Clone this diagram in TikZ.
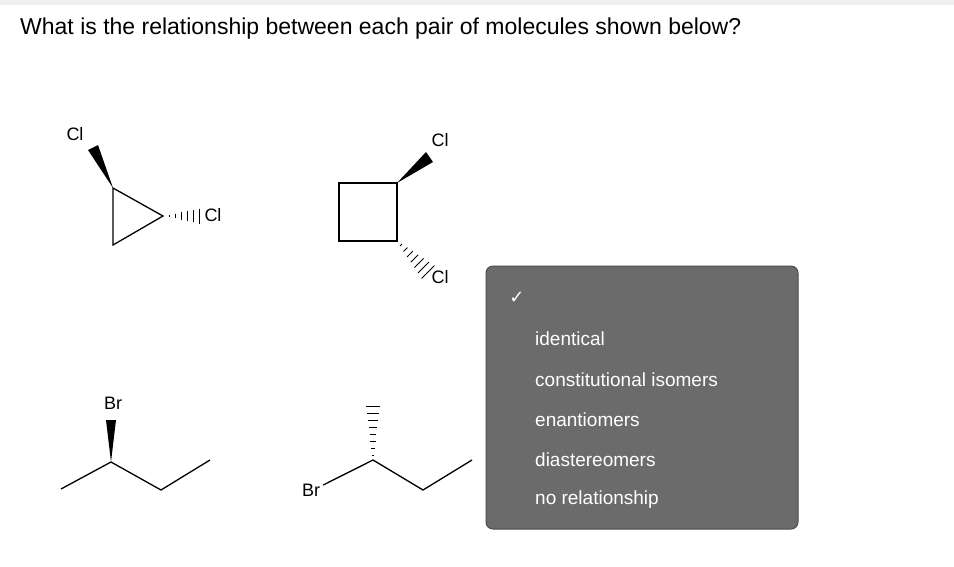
\documentclass[tikz,border=0pt]{standalone}
\usepackage{fontspec}
\setmainfont{Liberation Sans}
\usetikzlibrary{calc}
\begin{document}
\begin{tikzpicture}[x=1pt,y=-1pt,
  bond/.style={line width=1.3pt},
  atom/.style={font=\fontsize{18}{20}\selectfont, inner sep=0pt},
  menuitem/.style={font=\fontsize{19}{22}\selectfont, text=white, anchor=west, inner sep=0pt}]
\useasboundingbox (0,0) rectangle (954,566);
\fill[gray!12] (0,0) rectangle (954,5);
\node[anchor=west, font=\fontsize{23}{26}\selectfont, inner sep=0pt] (q) at (20,29) {What is the relationship between each pair of molecules shown below?};
% cyclopropane
\coordinate (p1) at (113,188); \coordinate (p2) at (163,216); \coordinate (p3) at (113,245);
\draw[bond] (p1) -- (p2) -- (p3) -- cycle;
\node[atom] (cl1) at (75,134) {Cl};
\fill (p1) -- (88,150) -- (98,145) -- cycle;
\node[atom] (cl2) at (213,215) {Cl};
\foreach \i in {0,...,5}{\draw[line width=1pt] ($(p2)+(6+\i*6,-1-\i*1.3)$) -- ($(p2)+(6+\i*6,1+\i*1.3)$);}
% cyclobutane
\draw[bond] (339,183) rectangle (397,241);
\fill (397,183) -- (426,152) -- (433,162) -- cycle;
\node[atom] (cl3) at (440,140) {Cl};
\foreach \i in {0,...,6}{\draw[line width=1pt] ($(397,241)+(4+\i*4.5,4+\i*4.5)+(-1-\i*0.9,1+\i*0.9)$) -- ($(397,241)+(4+\i*4.5,4+\i*4.5)+(1+\i*0.9,-1-\i*0.9)$);}
\node[atom] (cl4) at (440,277) {Cl};
% bottom left
\draw[bond] (61,489) -- (111,462) -- (161,490) -- (210,460);
\fill (111,462) -- (106,420) -- (116,420) -- cycle;
\node[atom] (br1) at (113,403) {Br};
% bottom right
\node[atom] (br2) at (311,490) {Br};
\draw[bond] ($(br2.east)+(3,-5)$) -- (373,460) -- (423,490) -- (472,460);
\foreach \i in {0,...,7}{\draw[line width=1pt] ($(373,455)+(-1-\i*0.8,-\i*7)$) -- ($(373,455)+(1+\i*0.8,-\i*7)$);}
% menu
\draw[rounded corners=7pt, fill=black!58, draw=black!70, line width=1pt] (486,266) rectangle (798,529);
\node[font=\fontsize{18}{20}\selectfont, text=white, inner sep=0pt] (chk) at (517,298) {\fontspec{DejaVu Sans}✓};
\node[menuitem] (m1) at (535,339) {identical};
\node[menuitem] (m2) at (535,380) {constitutional isomers};
\node[menuitem] (m3) at (535,420) {enantiomers};
\node[menuitem] (m4) at (535,460) {diastereomers};
\node[menuitem] (m5) at (535,500) {no relationship};
\end{tikzpicture}
\end{document}
